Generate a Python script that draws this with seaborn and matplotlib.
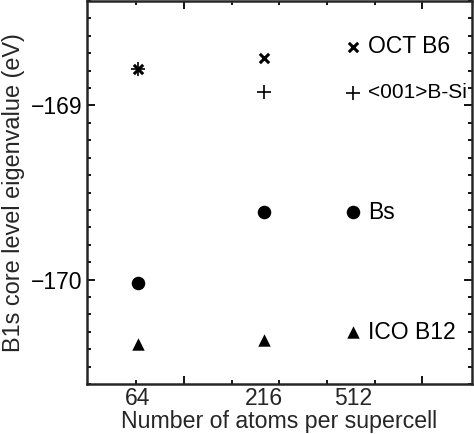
import numpy as np
import pandas as pd
import matplotlib
matplotlib.use("Agg")
import matplotlib.pyplot as plt
import matplotlib.ticker as mticker
import matplotlib.transforms as mtransforms
import seaborn as sns

# Data ---------------------------------------------------------------
atoms = [64, 216]
oct_b6 = [-168.79, -168.73]
b_si_001 = [-168.79, -168.92]
bs = [-170.02, -169.61]
ico_b12 = [-170.37, -170.35]

size_labels = [64, 216, 512]
legend_names = ["OCT B6", "<001>B-Si", "Bs", "ICO B12"]

sns.set_theme(style="ticks")
plt.rcParams["font.family"] = ["Liberation Sans", "DejaVu Sans"]

fig = plt.figure(figsize=(4.74, 4.34), dpi=100)
ax = fig.add_axes([87 / 474, 1 - 384 / 434, 385 / 474, 383 / 434])

# marker style for each series
styles = {
    "OCT B6": dict(marker="x", s=45, linewidth=2.2),
    "<001>B-Si": dict(marker="+", s=110, linewidth=1.2),
    "Bs": dict(marker="o", s=95, linewidth=0),
    "ICO B12": dict(marker="^", s=80, linewidth=0),
}
series = {"OCT B6": oct_b6, "<001>B-Si": b_si_001, "Bs": bs, "ICO B12": ico_b12}

for name, vals in series.items():
    df = pd.DataFrame({"atoms": atoms, "e": vals})
    sns.scatterplot(data=df, x="atoms", y="e", color="black", ax=ax,
                    legend=False, **styles[name])

# hand-placed legend in the 512 column
trans = mtransforms.blended_transform_factory(ax.transData, ax.transAxes)
legend_y = [0.881, 0.760, 0.448, 0.135]
legend_fs = [16.5, 15, 16.5, 16.5]
for name, yy, fs in zip(legend_names, legend_y, legend_fs):
    st = styles[name]
    ax.scatter([512], [yy], transform=trans, color="black", marker=st["marker"],
               s=st["s"], linewidths=st["linewidth"], clip_on=False)
    ax.annotate(name, xy=(512, yy), xycoords=trans, xytext=(11, 0),
                textcoords="offset points", va="center", ha="left",
                fontsize=fs, color="black")

ax.set_xscale("log")
ax.set_xlim(39.1, 1619)
ax.set_ylim(-170.6, -168.4)

# tick marks at 10^(k/5), labels only at the supercell sizes
ax.xaxis.set_major_locator(mticker.FixedLocator([100, 1000]))
ax.xaxis.set_minor_locator(mticker.FixedLocator(
    [10 ** (k / 5) for k in range(9, 16) if k not in (10, 15)]))
ax.xaxis.set_major_formatter(mticker.NullFormatter())
ax.xaxis.set_minor_formatter(mticker.NullFormatter())
sec = ax.secondary_xaxis("bottom")
sec.set_xticks(size_labels, [str(v) for v in size_labels])
sec.xaxis.set_minor_locator(mticker.NullLocator())
sec.tick_params(which="both", length=0, labelsize=16.5, pad=2)
for sp in sec.spines.values():
    sp.set_visible(False)

ax.yaxis.set_major_locator(mticker.MultipleLocator(1))
ax.yaxis.set_minor_locator(mticker.MultipleLocator(0.1))
ax.yaxis.set_major_formatter(mticker.FuncFormatter(lambda v, p: f"\u2212{abs(v):.0f}"))

ax.tick_params(which="both", direction="in", top=True, right=True,
               width=1.3, colors="black", labelsize=16.5)
ax.tick_params(which="major", length=6)
ax.tick_params(which="minor", length=3)

for sp in ax.spines.values():
    sp.set_linewidth(1.8)

ax.set_xlabel("")
sec.set_xlabel("Number of atoms per supercell", fontsize=16.7, labelpad=0)
ax.set_ylabel("B1s core level eigenvalue (eV)", fontsize=16.9, labelpad=4)

fig.savefig("out.png", dpi=100)
